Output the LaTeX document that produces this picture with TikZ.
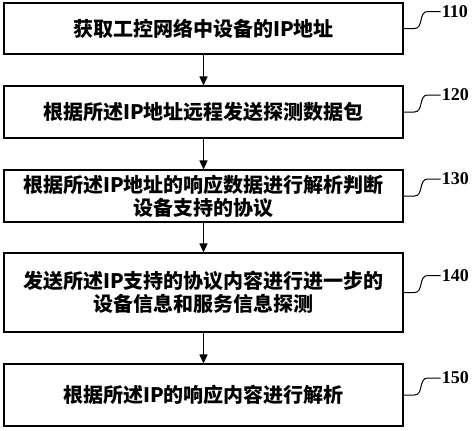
\documentclass[tikz,border=0pt]{standalone}
\usepackage{fontspec}
\setmainfont{Liberation Serif}
\newfontfamily\cjk{Noto Sans CJK SC}
\usetikzlibrary{arrows.meta,calc}
\begin{document}
\begin{tikzpicture}[x=1pt,y=-1pt,
  box/.style={draw, line width=1.1pt, minimum width=399pt, inner sep=0pt, align=center,
    font=\cjk\bfseries\fontsize{20}{23}\selectfont},
  lab/.style={anchor=west, inner sep=1pt, font=\bfseries\fontsize{18}{18}\selectfont},
  arr/.style={line width=1.4pt, -{Triangle[length=9pt,width=8pt]}},
  lead/.style={line width=1pt}]
\useasboundingbox (0,0) rectangle (474,431);
\node[box, minimum height=51pt] (b1) at (203.5,28.5) {获取工控网络中设备的IP地址};
\node[box, minimum height=52pt] (b2) at (203.5,112) {根据所述IP地址远程发送探测数据包};
\node[box, minimum height=52pt] (b3) at (203.5,196) {根据所述IP地址的响应数据进行解析判断\\设备支持的协议};
\node[box, minimum height=79pt] (b4) at (203.5,292.5) {发送所述IP支持的协议内容进行进一步的\\设备信息和服务信息探测};
\node[box, minimum height=62pt] (b5) at (203.5,395) {根据所述IP的响应内容进行解析};
\draw[arr] (b1.south) -- (b2.north);
\draw[arr] (b2.south) -- (b3.north);
\draw[arr] (b3.south) -- (b4.north);
\draw[arr] (b4.south) -- (b5.north);
\foreach \b/\t in {b1/110,b2/120,b3/130,b4/140,b5/150}{
  \node[lab] (l\b) at ($(\b.east)+(37,-17)$) {\t};
  \draw[lead] (\b.east) -- ++(11,0) .. controls +(9,0) and +(-9,0) .. ($(l\b.west)+(-13,0)$) -- (l\b.west);
}
\end{tikzpicture}
\end{document}
